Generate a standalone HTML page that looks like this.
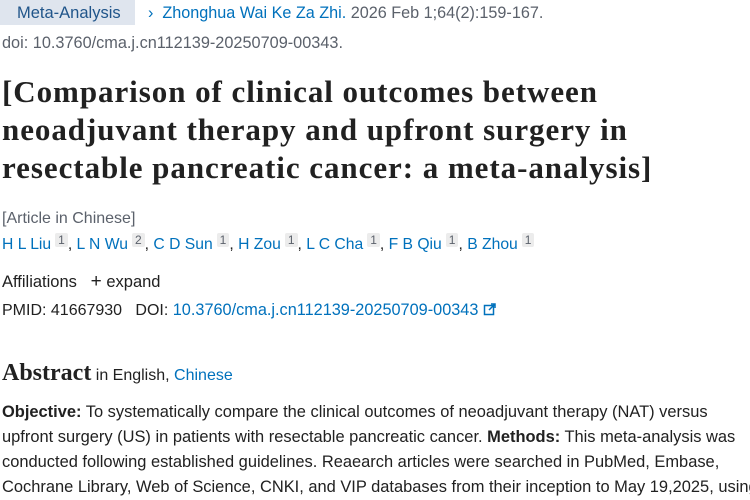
<!DOCTYPE html>
<html><head><meta charset="utf-8"><style>
html,body{margin:0;padding:0;background:#fff;}
body{width:750px;height:500px;overflow:hidden;position:relative;font-family:"Liberation Sans",sans-serif;color:#212121;}
.l{position:absolute;left:2px;white-space:nowrap;}
.blue{color:#0071bc;}
.gray{color:#5b616b;}
.badge{position:absolute;left:0;top:0;width:135px;height:25px;background:#dfe5ee;}
.sup{display:inline-block;background:#ececec;color:#5b616b;font-size:12px;line-height:14px;padding:0 3px;margin-left:4px;vertical-align:5px;border-radius:2px;}
.title{position:absolute;left:2px;top:73px;font-family:"Liberation Serif",serif;font-weight:bold;font-size:31px;letter-spacing:0.95px;line-height:38px;color:#212121;white-space:nowrap;}
.ser{font-family:"Liberation Serif",serif;font-weight:bold;}
</style></head><body>
<div class="badge"></div>
<div class="l" style="left:17px;top:3px;font-size:16.5px;line-height:20px;color:#20558a;">Meta-Analysis</div>
<div class="l" style="left:148px;top:3px;font-size:16.2px;line-height:20px;"><span class="blue">&#x203A;&nbsp; Zhonghua Wai Ke Za Zhi.</span><span class="gray"> 2026 Feb 1;64(2):159-167.</span></div>
<div class="l gray" style="top:33px;font-size:16.3px;line-height:20px;">doi: 10.3760/cma.j.cn112139-20250709-00343.</div>
<div class="title">[Comparison of clinical outcomes between<br>neoadjuvant therapy and upfront surgery in<br>resectable pancreatic cancer: a meta-analysis]</div>
<div class="l gray" style="top:209px;font-size:16px;line-height:20px;">[Article in Chinese]</div>
<div class="l blue" style="top:233px;font-size:15.7px;line-height:20px;">H L Liu<span class="sup">1</span><span style="color:#212121">, </span>L N Wu<span class="sup">2</span><span style="color:#212121">, </span>C D Sun<span class="sup">1</span><span style="color:#212121">, </span>H Zou<span class="sup">1</span><span style="color:#212121">, </span>L C Cha<span class="sup">1</span><span style="color:#212121">, </span>F B Qiu<span class="sup">1</span><span style="color:#212121">, </span>B Zhou<span class="sup">1</span></div>
<div class="l" style="top:272px;font-size:16.5px;line-height:20px;">Affiliations &nbsp;&nbsp;<span style="font-size:19px;">+</span> expand</div>
<div class="l" style="top:300px;font-size:16px;line-height:20px;">PMID: 41667930 &nbsp;&nbsp;DOI: <span class="blue" style="font-size:16.3px;">10.3760/cma.j.cn112139-20250709-00343</span> <svg width="13" height="13" viewBox="0 0 13 13" style="vertical-align:-1px"><rect x="1.5" y="2.5" width="9" height="9" fill="none" stroke="#0071bc" stroke-width="1.5"/><path d="M6 7 L12 1 M8 1 H12 V5" fill="none" stroke="#0071bc" stroke-width="1.5"/></svg></div>
<div class="l" style="top:360px;font-size:16px;line-height:26px;"><span class="ser" style="font-size:24px;">Abstract</span> in English, <span class="blue">Chinese</span></div>
<div class="l" style="top:400px;font-size:16.45px;line-height:25px;"><b>Objective:</b> To systematically compare the clinical outcomes of neoadjuvant therapy (NAT) versus<br>upfront surgery (US) in patients with resectable pancreatic cancer. <b>Methods:</b> This meta-analysis was<br>conducted following established guidelines. Reaearch articles were searched in PubMed, Embase,<br>Cochrane Library, Web of Science, CNKI, and VIP databases from their inception to May 19,2025, using</div>
</body></html>
